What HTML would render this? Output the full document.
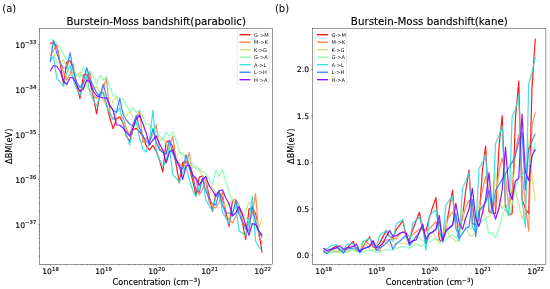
<!DOCTYPE html>
<html><head><meta charset="utf-8"><title>Burstein-Moss bandshift</title>
<style>html,body{margin:0;padding:0;background:#fff}body{width:550px;height:289px;overflow:hidden}</style>
</head><body>
<svg width="550" height="289" viewBox="0 0 550 289" style="display:block">
<rect width="550" height="289" fill="#fff"/>
<clipPath id="c39"><rect x="39.6" y="28.2" width="233.20000000000002" height="236.15000000000003"/></clipPath>
<g clip-path="url(#c39)" fill="none" stroke-width="1.2" stroke-linejoin="round" stroke-linecap="butt" stroke-opacity="0.9">
<polyline points="50.20,43.60 53.51,42.50 56.83,46.40 60.14,63.00 63.45,84.00 66.76,62.10 70.08,60.90 73.39,68.70 76.70,85.00 80.01,98.50 83.33,75.10 86.64,73.90 89.95,82.00 93.26,96.22 96.58,114.00 99.89,93.60 103.20,92.40 106.51,104.40 109.83,117.50 113.14,128.90 116.45,118.60 119.76,117.40 123.08,123.00 126.39,136.00 129.70,141.30 133.01,129.60 136.32,128.40 139.64,132.00 142.95,135.50 146.26,146.00 149.57,150.00 152.89,145.40 156.20,151.00 159.51,160.30 162.82,172.00 166.14,142.10 169.45,140.90 172.76,146.50 176.07,164.27 179.39,182.90 182.70,162.60 186.01,161.40 189.32,167.00 192.64,180.31 195.95,195.30 199.26,177.10 202.57,175.90 205.89,181.50 209.20,195.81 212.51,211.60 215.82,193.60 219.14,192.40 222.45,198.00 225.76,211.43 229.07,226.50 232.39,201.10 235.70,199.90 239.01,205.50 242.32,222.00 245.64,239.60 248.95,209.10 252.26,207.90 255.57,213.50 258.89,232.81 262.20,252.70" stroke="#ff0000"/>
<polyline points="50.20,55.80 53.51,50.00 56.83,44.90 60.14,63.00 63.45,71.90 66.76,80.00 70.08,74.00 73.39,64.00 76.70,89.00 80.01,91.00 83.33,87.30 86.64,81.30 89.95,71.30 93.26,95.30 96.58,98.30 99.89,94.20 103.20,88.20 106.51,78.20 109.83,113.00 113.14,118.70 116.45,118.00 119.76,116.50 123.08,117.50 126.39,129.00 129.70,135.00 133.01,123.30 136.32,118.00 139.64,110.90 142.95,142.70 146.26,137.90 149.57,140.50 152.89,134.50 156.20,124.50 159.51,148.50 162.82,151.50 166.14,152.20 169.45,146.20 172.76,136.20 176.07,160.20 179.39,163.20 182.70,168.50 186.01,162.50 189.32,152.50 192.64,176.50 195.95,179.50 199.26,195.00 202.57,189.00 205.89,179.00 209.20,203.00 212.51,206.00 215.82,208.00 219.14,202.00 222.45,192.00 225.76,216.00 229.07,219.00 232.39,223.00 235.70,217.00 239.01,207.00 242.32,222.00 245.64,226.00 248.95,222.00 252.26,214.00 255.57,193.50 258.89,236.00 262.20,243.30" stroke="#ff7e41"/>
<polyline points="50.20,46.40 53.51,52.00 56.83,61.60 60.14,63.00 63.45,59.90 66.76,66.00 70.08,74.00 73.39,78.00 76.70,76.00 80.01,72.00 83.33,79.00 86.64,86.00 89.95,92.00 93.26,90.00 96.58,86.00 99.89,92.00 103.20,99.00 106.51,107.00 109.83,111.60 113.14,101.00 116.45,97.00 119.76,106.00 123.08,112.00 126.39,116.00 129.70,111.60 133.01,117.00 136.32,123.00 139.64,128.00 142.95,126.00 146.26,124.00 149.57,124.50 152.89,131.00 156.20,137.00 159.51,141.00 162.82,137.30 166.14,143.00 169.45,149.00 172.76,154.00 176.07,157.00 179.39,152.50 182.70,155.00 186.01,157.00 189.32,163.00 192.64,168.00 195.95,166.00 199.26,170.00 202.57,176.00 205.89,182.00 209.20,185.00 212.51,187.00 215.82,193.00 219.14,197.00 222.45,203.00 225.76,206.00 229.07,204.00 232.39,199.30 235.70,205.00 239.01,212.00 242.32,216.00 245.64,212.00 248.95,202.20 252.26,205.00 255.57,218.00 258.89,228.00 262.20,217.80" stroke="#d4dd80"/>
<polyline points="50.20,39.00 53.51,40.50 56.83,43.00 60.14,48.00 63.45,54.40 66.76,60.00 70.08,66.00 73.39,68.70 76.70,74.50 80.01,77.50 83.33,67.30 86.64,73.80 89.95,70.90 93.26,77.00 96.58,84.00 99.89,75.30 103.20,80.40 106.51,76.70 109.83,87.00 113.14,95.60 116.45,96.40 119.76,98.00 123.08,99.30 126.39,105.00 129.70,111.60 133.01,107.30 136.32,112.40 139.64,109.90 142.95,117.00 146.26,123.50 149.57,124.50 152.89,129.00 156.20,132.00 159.51,136.00 162.82,140.30 166.14,132.00 169.45,136.50 172.76,132.30 176.07,140.00 179.39,151.80 182.70,154.00 186.01,156.90 189.32,159.00 192.64,164.00 195.95,169.20 199.26,168.30 202.57,172.00 205.89,173.50 209.20,179.00 212.51,184.40 215.82,169.80 219.14,176.40 222.45,169.40 225.76,181.00 229.07,192.50 232.39,199.30 235.70,201.50 239.01,206.00 242.32,212.00 245.64,218.00 248.95,222.00 252.26,224.00 255.57,228.00 258.89,232.00 262.20,236.00" stroke="#80ffb4"/>
<polyline points="50.20,61.60 53.51,56.00 56.83,78.90 60.14,82.00 63.45,86.50 66.76,72.00 70.08,66.00 73.39,80.00 76.70,89.00 80.01,95.60 83.33,83.00 86.64,76.00 89.95,92.00 93.26,100.00 96.58,106.00 99.89,96.00 103.20,92.00 106.51,106.00 109.83,113.00 113.14,120.00 116.45,112.00 119.76,108.00 123.08,124.00 126.39,134.00 129.70,145.00 133.01,128.00 136.32,122.00 139.64,138.00 142.95,149.00 146.26,152.00 149.57,140.00 152.89,110.00 156.20,150.00 159.51,160.00 162.82,166.40 166.14,160.00 169.45,148.00 172.76,174.90 176.07,178.00 179.39,182.00 182.70,172.00 186.01,166.00 189.32,180.00 192.64,190.00 195.95,196.70 199.26,186.00 202.57,177.80 205.89,200.00 209.20,206.00 212.51,211.00 215.82,197.00 219.14,190.00 222.45,212.00 225.76,218.00 229.07,224.00 232.39,212.00 235.70,206.00 239.01,230.90 242.32,233.00 245.64,236.00 248.95,222.00 252.26,196.40 255.57,241.00 258.89,247.00 262.20,251.30" stroke="#2adddd"/>
<polyline points="50.20,62.10 53.51,40.30 56.83,53.30 60.14,63.00 63.45,68.00 66.76,68.00 70.08,52.70 73.39,72.00 76.70,82.00 80.01,87.60 83.33,83.00 86.64,67.50 89.95,79.00 93.26,86.00 96.58,92.70 99.89,96.40 103.20,84.00 106.51,96.40 109.83,105.00 113.14,110.30 116.45,112.30 119.76,98.30 123.08,114.50 126.39,120.00 129.70,124.00 133.01,126.00 136.32,115.30 139.64,128.30 142.95,136.30 146.26,140.90 149.57,142.90 152.89,128.90 156.20,141.90 159.51,149.90 162.82,152.20 166.14,154.20 169.45,140.20 172.76,153.20 176.07,161.20 179.39,166.70 182.70,168.70 186.01,154.70 189.32,167.70 192.64,175.70 195.95,189.80 199.26,192.40 202.57,177.80 205.89,190.80 209.20,198.80 212.51,204.00 215.82,205.00 219.14,192.00 222.45,205.00 225.76,213.00 229.07,213.00 232.39,215.00 235.70,201.00 239.01,214.00 242.32,222.00 245.64,228.70 248.95,230.90 252.26,206.00 255.57,222.00 258.89,232.00 262.20,237.50" stroke="#2c7ef7"/>
<polyline points="50.20,71.30 53.51,65.50 56.83,66.50 60.14,71.00 63.45,81.00 66.76,84.50 70.08,77.50 73.39,78.20 76.70,85.00 80.01,91.30 83.33,89.00 86.64,80.00 89.95,82.00 93.26,91.00 96.58,95.60 99.89,97.00 103.20,98.00 106.51,97.80 109.83,105.80 113.14,110.00 116.45,125.00 119.76,125.00 123.08,128.00 126.39,132.00 129.70,136.20 133.01,128.00 136.32,119.00 139.64,115.00 142.95,124.00 146.26,133.30 149.57,145.00 152.89,140.00 156.20,136.00 159.51,144.00 162.82,150.00 166.14,163.00 169.45,152.00 172.76,150.00 176.07,159.00 179.39,166.00 182.70,179.30 186.01,166.00 189.32,165.00 192.64,175.00 195.95,178.00 199.26,185.00 202.57,180.00 205.89,176.50 209.20,186.00 212.51,190.50 215.82,196.40 219.14,191.00 222.45,189.80 225.76,198.00 229.07,203.60 232.39,216.00 235.70,213.00 239.01,206.50 242.32,214.00 245.64,225.00 248.95,235.30 252.26,223.60 255.57,224.40 258.89,231.00 262.20,235.30" stroke="#8000ff"/>
</g>
<g stroke="#000" stroke-width="0.4" fill="none">
<line x1="41.99" y1="264.35" x2="41.99" y2="265.25"/>
<line x1="45.06" y1="264.35" x2="45.06" y2="265.25"/>
<line x1="47.77" y1="264.35" x2="47.77" y2="265.25"/>
<line x1="50.20" y1="264.35" x2="50.20" y2="265.95000000000005"/>
<line x1="66.15" y1="264.35" x2="66.15" y2="265.25"/>
<line x1="75.49" y1="264.35" x2="75.49" y2="265.25"/>
<line x1="82.11" y1="264.35" x2="82.11" y2="265.25"/>
<line x1="87.25" y1="264.35" x2="87.25" y2="265.25"/>
<line x1="91.44" y1="264.35" x2="91.44" y2="265.25"/>
<line x1="94.99" y1="264.35" x2="94.99" y2="265.25"/>
<line x1="98.06" y1="264.35" x2="98.06" y2="265.25"/>
<line x1="100.77" y1="264.35" x2="100.77" y2="265.25"/>
<line x1="103.20" y1="264.35" x2="103.20" y2="265.95000000000005"/>
<line x1="119.15" y1="264.35" x2="119.15" y2="265.25"/>
<line x1="128.49" y1="264.35" x2="128.49" y2="265.25"/>
<line x1="135.11" y1="264.35" x2="135.11" y2="265.25"/>
<line x1="140.25" y1="264.35" x2="140.25" y2="265.25"/>
<line x1="144.44" y1="264.35" x2="144.44" y2="265.25"/>
<line x1="147.99" y1="264.35" x2="147.99" y2="265.25"/>
<line x1="151.06" y1="264.35" x2="151.06" y2="265.25"/>
<line x1="153.77" y1="264.35" x2="153.77" y2="265.25"/>
<line x1="156.20" y1="264.35" x2="156.20" y2="265.95000000000005"/>
<line x1="172.15" y1="264.35" x2="172.15" y2="265.25"/>
<line x1="181.49" y1="264.35" x2="181.49" y2="265.25"/>
<line x1="188.11" y1="264.35" x2="188.11" y2="265.25"/>
<line x1="193.25" y1="264.35" x2="193.25" y2="265.25"/>
<line x1="197.44" y1="264.35" x2="197.44" y2="265.25"/>
<line x1="200.99" y1="264.35" x2="200.99" y2="265.25"/>
<line x1="204.06" y1="264.35" x2="204.06" y2="265.25"/>
<line x1="206.77" y1="264.35" x2="206.77" y2="265.25"/>
<line x1="209.20" y1="264.35" x2="209.20" y2="265.95000000000005"/>
<line x1="225.15" y1="264.35" x2="225.15" y2="265.25"/>
<line x1="234.49" y1="264.35" x2="234.49" y2="265.25"/>
<line x1="241.11" y1="264.35" x2="241.11" y2="265.25"/>
<line x1="246.25" y1="264.35" x2="246.25" y2="265.25"/>
<line x1="250.44" y1="264.35" x2="250.44" y2="265.25"/>
<line x1="253.99" y1="264.35" x2="253.99" y2="265.25"/>
<line x1="257.06" y1="264.35" x2="257.06" y2="265.25"/>
<line x1="259.77" y1="264.35" x2="259.77" y2="265.25"/>
<line x1="262.20" y1="264.35" x2="262.20" y2="265.95000000000005"/>
<line x1="39.6" y1="256.19" x2="38.7" y2="256.19"/>
<line x1="39.6" y1="248.26" x2="38.7" y2="248.26"/>
<line x1="39.6" y1="242.63" x2="38.7" y2="242.63"/>
<line x1="39.6" y1="238.26" x2="38.7" y2="238.26"/>
<line x1="39.6" y1="234.69" x2="38.7" y2="234.69"/>
<line x1="39.6" y1="231.68" x2="38.7" y2="231.68"/>
<line x1="39.6" y1="229.07" x2="38.7" y2="229.07"/>
<line x1="39.6" y1="226.76" x2="38.7" y2="226.76"/>
<line x1="39.6" y1="224.70" x2="38.0" y2="224.70"/>
<line x1="39.6" y1="211.14" x2="38.7" y2="211.14"/>
<line x1="39.6" y1="203.21" x2="38.7" y2="203.21"/>
<line x1="39.6" y1="197.58" x2="38.7" y2="197.58"/>
<line x1="39.6" y1="193.21" x2="38.7" y2="193.21"/>
<line x1="39.6" y1="189.64" x2="38.7" y2="189.64"/>
<line x1="39.6" y1="186.63" x2="38.7" y2="186.63"/>
<line x1="39.6" y1="184.02" x2="38.7" y2="184.02"/>
<line x1="39.6" y1="181.71" x2="38.7" y2="181.71"/>
<line x1="39.6" y1="179.65" x2="38.0" y2="179.65"/>
<line x1="39.6" y1="166.09" x2="38.7" y2="166.09"/>
<line x1="39.6" y1="158.16" x2="38.7" y2="158.16"/>
<line x1="39.6" y1="152.53" x2="38.7" y2="152.53"/>
<line x1="39.6" y1="148.16" x2="38.7" y2="148.16"/>
<line x1="39.6" y1="144.59" x2="38.7" y2="144.59"/>
<line x1="39.6" y1="141.58" x2="38.7" y2="141.58"/>
<line x1="39.6" y1="138.97" x2="38.7" y2="138.97"/>
<line x1="39.6" y1="136.66" x2="38.7" y2="136.66"/>
<line x1="39.6" y1="134.60" x2="38.0" y2="134.60"/>
<line x1="39.6" y1="121.04" x2="38.7" y2="121.04"/>
<line x1="39.6" y1="113.11" x2="38.7" y2="113.11"/>
<line x1="39.6" y1="107.48" x2="38.7" y2="107.48"/>
<line x1="39.6" y1="103.11" x2="38.7" y2="103.11"/>
<line x1="39.6" y1="99.54" x2="38.7" y2="99.54"/>
<line x1="39.6" y1="96.53" x2="38.7" y2="96.53"/>
<line x1="39.6" y1="93.92" x2="38.7" y2="93.92"/>
<line x1="39.6" y1="91.61" x2="38.7" y2="91.61"/>
<line x1="39.6" y1="89.55" x2="38.0" y2="89.55"/>
<line x1="39.6" y1="75.99" x2="38.7" y2="75.99"/>
<line x1="39.6" y1="68.06" x2="38.7" y2="68.06"/>
<line x1="39.6" y1="62.43" x2="38.7" y2="62.43"/>
<line x1="39.6" y1="58.06" x2="38.7" y2="58.06"/>
<line x1="39.6" y1="54.49" x2="38.7" y2="54.49"/>
<line x1="39.6" y1="51.48" x2="38.7" y2="51.48"/>
<line x1="39.6" y1="48.87" x2="38.7" y2="48.87"/>
<line x1="39.6" y1="46.56" x2="38.7" y2="46.56"/>
<line x1="39.6" y1="44.50" x2="38.0" y2="44.50"/>
<line x1="39.6" y1="30.94" x2="38.7" y2="30.94"/>
<rect x="39.6" y="28.2" width="233.20000000000002" height="236.15000000000003"/>
</g>
<g font-family="'DejaVu Sans', 'Liberation Sans', sans-serif" fill="#000" stroke="#000" stroke-width="0.13">
<text x="50.50" y="274.35" font-size="7.7" text-anchor="middle">10<tspan dy="-3.5" font-size="5.39">18</tspan></text>
<text x="103.50" y="274.35" font-size="7.7" text-anchor="middle">10<tspan dy="-3.5" font-size="5.39">19</tspan></text>
<text x="156.50" y="274.35" font-size="7.7" text-anchor="middle">10<tspan dy="-3.5" font-size="5.39">20</tspan></text>
<text x="209.50" y="274.35" font-size="7.7" text-anchor="middle">10<tspan dy="-3.5" font-size="5.39">21</tspan></text>
<text x="262.50" y="274.35" font-size="7.7" text-anchor="middle">10<tspan dy="-3.5" font-size="5.39">22</tspan></text>
<text x="36.40" y="228.00" font-size="7.7" text-anchor="end">10<tspan dy="-3.6" font-size="5.39">−37</tspan></text>
<text x="36.40" y="182.95" font-size="7.7" text-anchor="end">10<tspan dy="-3.6" font-size="5.39">−36</tspan></text>
<text x="36.40" y="137.90" font-size="7.7" text-anchor="end">10<tspan dy="-3.6" font-size="5.39">−35</tspan></text>
<text x="36.40" y="92.85" font-size="7.7" text-anchor="end">10<tspan dy="-3.6" font-size="5.39">−34</tspan></text>
<text x="36.40" y="47.80" font-size="7.7" text-anchor="end">10<tspan dy="-3.6" font-size="5.39">−33</tspan></text>
<text x="156.20" y="24.9" font-size="10.3" text-anchor="middle">Burstein-Moss bandshift(parabolic)</text>
<text x="156.55" y="285.0" font-size="8.2" text-anchor="middle">Concentration (cm<tspan dy="-3" font-size="5.74">−3</tspan><tspan dy="3">)</tspan></text>
<text transform="translate(12.2,146.28) rotate(-90)" font-size="8.2" text-anchor="middle">ΔBM(eV)</text>
<rect x="237.30" y="30.80" width="31.8" height="53.4" rx="1.2" fill="#fff" fill-opacity="0.8" stroke="#d4d4d4" stroke-width="0.5"/>
<line x1="239.50" y1="34.70" x2="250.50" y2="34.70" stroke="#ff0000" stroke-width="1.3"/>
<text x="254.10" y="36.50" font-size="5.1" stroke="none" fill="#111">G-&gt;M</text>
<line x1="239.50" y1="42.20" x2="250.50" y2="42.20" stroke="#ff7e41" stroke-width="1.3"/>
<text x="254.10" y="44.00" font-size="5.1" stroke="none" fill="#111">M-&gt;K</text>
<line x1="239.50" y1="49.70" x2="250.50" y2="49.70" stroke="#d4dd80" stroke-width="1.3"/>
<text x="254.10" y="51.50" font-size="5.1" stroke="none" fill="#111">K-&gt;G</text>
<line x1="239.50" y1="57.20" x2="250.50" y2="57.20" stroke="#80ffb4" stroke-width="1.3"/>
<text x="254.10" y="59.00" font-size="5.1" stroke="none" fill="#111">G-&gt;A</text>
<line x1="239.50" y1="64.70" x2="250.50" y2="64.70" stroke="#2adddd" stroke-width="1.3"/>
<text x="254.10" y="66.50" font-size="5.1" stroke="none" fill="#111">A-&gt;L</text>
<line x1="239.50" y1="72.20" x2="250.50" y2="72.20" stroke="#2c7ef7" stroke-width="1.3"/>
<text x="254.10" y="74.00" font-size="5.1" stroke="none" fill="#111">L-&gt;H</text>
<line x1="239.50" y1="79.70" x2="250.50" y2="79.70" stroke="#8000ff" stroke-width="1.3"/>
<text x="254.10" y="81.50" font-size="5.1" stroke="none" fill="#111">H-&gt;A</text>
</g>
<clipPath id="c312"><rect x="312.75" y="28.2" width="233.14999999999998" height="236.15000000000003"/></clipPath>
<g clip-path="url(#c312)" fill="none" stroke-width="1.2" stroke-linejoin="round" stroke-linecap="butt" stroke-opacity="0.9">
<polyline points="323.35,250.75 326.66,252.88 329.97,250.75 333.28,247.78 336.59,245.64 339.91,250.75 343.22,251.49 346.53,248.70 349.84,244.90 353.15,241.28 356.47,250.00 359.78,250.56 363.09,246.85 366.40,241.28 369.71,236.92 373.02,247.03 376.34,246.85 379.65,243.14 382.96,236.64 386.27,230.42 389.58,236.27 392.90,237.66 396.21,229.68 399.52,225.41 402.83,220.96 406.14,236.64 409.45,240.35 412.77,229.68 416.08,220.96 419.39,212.33 422.70,230.61 426.01,230.14 429.32,218.08 432.64,206.94 435.95,197.66 439.26,239.61 442.57,242.02 445.88,227.36 449.20,208.80 452.51,190.24 455.82,228.29 459.13,232.46 462.44,218.08 465.75,190.24 469.07,170.20 472.38,223.65 475.69,224.58 479.00,219.94 482.31,171.68 485.63,146.16 488.94,211.58 492.25,213.44 495.56,213.44 498.87,148.48 502.18,115.54 505.50,208.80 508.81,215.30 512.12,213.44 515.43,118.78 518.74,81.39 522.06,199.52 525.37,208.80 528.68,213.44 531.99,88.16 535.30,38.42" stroke="#ff0000"/>
<polyline points="323.35,252.42 326.66,252.42 329.97,251.95 333.28,251.49 336.59,250.56 339.91,251.49 343.22,251.95 346.53,251.49 349.84,250.56 353.15,249.63 356.47,250.56 359.78,251.49 363.09,246.85 366.40,242.21 369.71,244.99 373.02,245.92 376.34,248.70 379.65,251.49 382.96,243.14 386.27,240.35 389.58,239.42 392.90,238.96 396.21,238.96 399.52,234.13 402.83,231.91 406.14,232.65 409.45,236.64 412.77,234.78 416.08,232.00 419.39,229.03 422.70,229.68 426.01,231.16 429.32,229.03 432.64,225.41 435.95,221.70 439.26,231.16 442.57,242.12 445.88,222.72 449.20,216.60 452.51,212.23 455.82,218.08 459.13,227.36 462.44,218.08 465.75,207.50 469.07,200.17 472.38,208.80 475.69,222.72 479.00,208.80 482.31,190.24 485.63,176.32 488.94,190.24 492.25,213.44 495.56,199.52 498.87,171.68 502.18,158.04 505.50,176.32 508.81,208.80 512.12,190.24 515.43,153.12 518.74,134.56 522.06,171.68 525.37,204.16 528.68,231.07 531.99,125.28 535.30,112.29" stroke="#ff7e41"/>
<polyline points="323.35,251.49 326.66,251.95 329.97,251.49 333.28,251.02 336.59,250.56 339.91,251.02 343.22,251.49 346.53,251.02 349.84,250.56 353.15,249.63 356.47,248.70 359.78,245.92 363.09,242.02 366.40,244.06 369.71,249.63 373.02,249.63 376.34,248.70 379.65,246.85 382.96,241.28 386.27,242.67 389.58,244.99 392.90,244.99 396.21,244.06 399.52,243.14 402.83,243.14 406.14,244.06 409.45,243.14 412.77,240.35 416.08,236.64 419.39,237.57 422.70,241.28 426.01,241.28 429.32,238.50 432.64,231.07 435.95,238.50 439.26,243.14 442.57,241.28 445.88,220.86 449.20,236.64 452.51,238.50 455.82,241.28 459.13,240.35 462.44,208.80 465.75,227.36 469.07,234.78 472.38,236.64 475.69,232.00 479.00,204.53 482.31,208.80 485.63,218.08 488.94,216.22 492.25,213.44 495.56,172.61 498.87,199.52 502.18,208.80 505.50,203.23 508.81,208.80 512.12,171.68 515.43,190.24 518.74,204.16 522.06,219.01 525.37,208.80 528.68,140.13 531.99,176.32 535.30,201.38" stroke="#d4dd80"/>
<polyline points="323.35,252.42 326.66,252.88 329.97,252.88 333.28,252.42 336.59,252.42 339.91,252.42 343.22,252.88 346.53,252.42 349.84,251.02 353.15,250.10 356.47,251.49 359.78,252.69 363.09,251.95 366.40,250.56 369.71,250.10 373.02,251.49 376.34,252.69 379.65,251.95 382.96,250.56 386.27,249.35 389.58,249.82 392.90,250.10 396.21,248.70 399.52,247.31 402.83,246.29 406.14,247.31 409.45,248.33 412.77,245.92 416.08,243.69 419.39,245.92 422.70,245.92 426.01,241.28 429.32,242.21 432.64,239.89 435.95,238.59 439.26,241.28 442.57,242.39 445.88,239.42 449.20,235.99 452.51,235.06 455.82,237.57 459.13,234.78 462.44,232.46 465.75,228.29 469.07,227.36 472.38,229.68 475.69,228.75 479.00,224.58 482.31,220.86 485.63,218.54 488.94,233.86 492.25,232.46 495.56,237.57 498.87,228.75 502.18,216.22 505.50,207.87 508.81,216.22 512.12,204.16 515.43,188.38 518.74,177.25 522.06,175.39 525.37,171.68 528.68,165.18 531.99,158.69 535.30,142.91" stroke="#80ffb4"/>
<polyline points="323.35,248.52 326.66,249.17 329.97,246.38 333.28,244.99 336.59,244.90 339.91,249.26 343.22,250.75 346.53,244.90 349.84,244.16 353.15,243.41 356.47,249.26 359.78,252.42 363.09,241.28 366.40,239.80 369.71,238.40 373.02,244.06 376.34,247.03 379.65,235.53 382.96,232.56 386.27,231.07 389.58,235.53 392.90,241.28 396.21,223.93 399.52,221.79 402.83,219.47 406.14,236.64 409.45,243.14 412.77,223.18 416.08,220.31 419.39,217.43 422.70,227.36 426.01,250.19 429.32,216.60 432.64,212.23 435.95,210.01 439.26,232.00 442.57,239.98 445.88,204.53 449.20,200.45 452.51,195.81 455.82,227.36 459.13,241.28 462.44,188.38 465.75,180.96 469.07,172.61 472.38,227.36 475.69,232.00 479.00,168.25 482.31,163.33 485.63,154.05 488.94,208.80 492.25,213.44 495.56,143.84 498.87,135.49 502.18,126.39 505.50,204.16 508.81,215.30 512.12,116.93 515.43,109.04 518.74,95.12 522.06,199.52 525.37,227.36 528.68,83.98 531.99,72.38 535.30,57.07" stroke="#2adddd"/>
<polyline points="323.35,250.75 326.66,253.62 329.97,250.56 333.28,249.17 336.59,247.78 339.91,249.17 343.22,253.16 346.53,249.17 349.84,248.70 353.15,248.24 356.47,247.78 359.78,252.60 363.09,248.70 366.40,247.78 369.71,246.38 373.02,241.28 376.34,250.75 379.65,247.78 382.96,245.92 386.27,243.14 389.58,239.80 392.90,249.26 396.21,243.41 399.52,241.28 402.83,238.50 406.14,234.78 409.45,245.92 412.77,241.28 416.08,236.64 419.39,232.00 422.70,225.50 426.01,243.51 429.32,233.30 432.64,232.00 435.95,229.22 439.26,220.86 442.57,241.37 445.88,232.00 449.20,227.36 452.51,224.58 455.82,213.44 459.13,238.50 462.44,233.86 465.75,228.29 469.07,226.43 472.38,199.52 475.69,236.64 479.00,211.58 482.31,206.94 485.63,202.30 488.94,190.24 492.25,209.73 495.56,190.24 498.87,185.14 502.18,179.10 505.50,173.54 508.81,167.97 512.12,162.40 515.43,154.98 518.74,141.98 522.06,132.70 525.37,190.24 528.68,148.76 531.99,141.06 535.30,133.63" stroke="#2c7ef7"/>
<polyline points="323.35,248.24 326.66,250.75 329.97,249.26 333.28,248.70 336.59,247.78 339.91,245.64 343.22,249.26 346.53,247.78 349.84,247.31 353.15,246.38 356.47,244.16 359.78,251.49 363.09,248.70 366.40,247.78 369.71,246.38 373.02,240.54 376.34,247.78 379.65,246.38 382.96,243.14 386.27,236.64 389.58,230.42 392.90,236.27 396.21,235.71 399.52,233.39 402.83,232.00 406.14,233.39 409.45,243.51 412.77,240.82 416.08,239.98 419.39,232.00 422.70,223.93 426.01,239.24 429.32,234.04 432.64,232.00 435.95,229.22 439.26,215.30 442.57,240.63 445.88,230.42 449.20,228.29 452.51,225.50 455.82,203.23 459.13,222.72 462.44,229.22 465.75,218.08 469.07,208.80 472.38,188.38 475.69,218.08 479.00,226.43 482.31,213.44 485.63,199.52 488.94,172.52 492.25,208.80 495.56,219.01 498.87,208.80 502.18,190.24 505.50,147.09 508.81,190.24 512.12,199.52 515.43,180.96 518.74,178.18 522.06,114.14 525.37,171.68 528.68,180.50 531.99,155.90 535.30,149.13" stroke="#8000ff"/>
</g>
<g stroke="#000" stroke-width="0.4" fill="none">
<line x1="315.14" y1="264.35" x2="315.14" y2="265.25"/>
<line x1="318.21" y1="264.35" x2="318.21" y2="265.25"/>
<line x1="320.92" y1="264.35" x2="320.92" y2="265.25"/>
<line x1="323.35" y1="264.35" x2="323.35" y2="265.95000000000005"/>
<line x1="339.30" y1="264.35" x2="339.30" y2="265.25"/>
<line x1="348.63" y1="264.35" x2="348.63" y2="265.25"/>
<line x1="355.25" y1="264.35" x2="355.25" y2="265.25"/>
<line x1="360.39" y1="264.35" x2="360.39" y2="265.25"/>
<line x1="364.58" y1="264.35" x2="364.58" y2="265.25"/>
<line x1="368.13" y1="264.35" x2="368.13" y2="265.25"/>
<line x1="371.20" y1="264.35" x2="371.20" y2="265.25"/>
<line x1="373.91" y1="264.35" x2="373.91" y2="265.25"/>
<line x1="376.34" y1="264.35" x2="376.34" y2="265.95000000000005"/>
<line x1="392.29" y1="264.35" x2="392.29" y2="265.25"/>
<line x1="401.62" y1="264.35" x2="401.62" y2="265.25"/>
<line x1="408.24" y1="264.35" x2="408.24" y2="265.25"/>
<line x1="413.37" y1="264.35" x2="413.37" y2="265.25"/>
<line x1="417.57" y1="264.35" x2="417.57" y2="265.25"/>
<line x1="421.12" y1="264.35" x2="421.12" y2="265.25"/>
<line x1="424.19" y1="264.35" x2="424.19" y2="265.25"/>
<line x1="426.90" y1="264.35" x2="426.90" y2="265.25"/>
<line x1="429.32" y1="264.35" x2="429.32" y2="265.95000000000005"/>
<line x1="445.28" y1="264.35" x2="445.28" y2="265.25"/>
<line x1="454.61" y1="264.35" x2="454.61" y2="265.25"/>
<line x1="461.23" y1="264.35" x2="461.23" y2="265.25"/>
<line x1="466.36" y1="264.35" x2="466.36" y2="265.25"/>
<line x1="470.56" y1="264.35" x2="470.56" y2="265.25"/>
<line x1="474.11" y1="264.35" x2="474.11" y2="265.25"/>
<line x1="477.18" y1="264.35" x2="477.18" y2="265.25"/>
<line x1="479.89" y1="264.35" x2="479.89" y2="265.25"/>
<line x1="482.31" y1="264.35" x2="482.31" y2="265.95000000000005"/>
<line x1="498.26" y1="264.35" x2="498.26" y2="265.25"/>
<line x1="507.60" y1="264.35" x2="507.60" y2="265.25"/>
<line x1="514.22" y1="264.35" x2="514.22" y2="265.25"/>
<line x1="519.35" y1="264.35" x2="519.35" y2="265.25"/>
<line x1="523.55" y1="264.35" x2="523.55" y2="265.25"/>
<line x1="527.09" y1="264.35" x2="527.09" y2="265.25"/>
<line x1="530.17" y1="264.35" x2="530.17" y2="265.25"/>
<line x1="532.88" y1="264.35" x2="532.88" y2="265.25"/>
<line x1="535.30" y1="264.35" x2="535.30" y2="265.95000000000005"/>
<line x1="312.75" y1="255.20" x2="311.15" y2="255.20"/>
<line x1="312.75" y1="208.80" x2="311.15" y2="208.80"/>
<line x1="312.75" y1="162.40" x2="311.15" y2="162.40"/>
<line x1="312.75" y1="116.00" x2="311.15" y2="116.00"/>
<line x1="312.75" y1="69.60" x2="311.15" y2="69.60"/>
<rect x="312.75" y="28.2" width="233.14999999999998" height="236.15000000000003"/>
</g>
<g font-family="'DejaVu Sans', 'Liberation Sans', sans-serif" fill="#000" stroke="#000" stroke-width="0.13">
<text x="323.65" y="274.35" font-size="7.7" text-anchor="middle">10<tspan dy="-3.5" font-size="5.39">18</tspan></text>
<text x="376.64" y="274.35" font-size="7.7" text-anchor="middle">10<tspan dy="-3.5" font-size="5.39">19</tspan></text>
<text x="429.62" y="274.35" font-size="7.7" text-anchor="middle">10<tspan dy="-3.5" font-size="5.39">20</tspan></text>
<text x="482.61" y="274.35" font-size="7.7" text-anchor="middle">10<tspan dy="-3.5" font-size="5.39">21</tspan></text>
<text x="535.60" y="274.35" font-size="7.7" text-anchor="middle">10<tspan dy="-3.5" font-size="5.39">22</tspan></text>
<text x="309.05" y="258.00" font-size="7.7" text-anchor="end">0.0</text>
<text x="309.05" y="211.60" font-size="7.7" text-anchor="end">0.5</text>
<text x="309.05" y="165.20" font-size="7.7" text-anchor="end">1.0</text>
<text x="309.05" y="118.80" font-size="7.7" text-anchor="end">1.5</text>
<text x="309.05" y="72.40" font-size="7.7" text-anchor="end">2.0</text>
<text x="429.32" y="24.9" font-size="10.3" text-anchor="middle">Burstein-Moss bandshift(kane)</text>
<text x="429.68" y="285.0" font-size="8.2" text-anchor="middle">Concentration (cm<tspan dy="-3" font-size="5.74">−3</tspan><tspan dy="3">)</tspan></text>
<text transform="translate(294.2,146.28) rotate(-90)" font-size="8.2" text-anchor="middle">ΔBM(eV)</text>
<rect x="314.75" y="30.80" width="31.8" height="53.4" rx="1.2" fill="#fff" fill-opacity="0.8" stroke="#d4d4d4" stroke-width="0.5"/>
<line x1="316.95" y1="34.70" x2="327.95" y2="34.70" stroke="#ff0000" stroke-width="1.3"/>
<text x="331.55" y="36.50" font-size="5.1" stroke="none" fill="#111">G-&gt;M</text>
<line x1="316.95" y1="42.20" x2="327.95" y2="42.20" stroke="#ff7e41" stroke-width="1.3"/>
<text x="331.55" y="44.00" font-size="5.1" stroke="none" fill="#111">M-&gt;K</text>
<line x1="316.95" y1="49.70" x2="327.95" y2="49.70" stroke="#d4dd80" stroke-width="1.3"/>
<text x="331.55" y="51.50" font-size="5.1" stroke="none" fill="#111">K-&gt;G</text>
<line x1="316.95" y1="57.20" x2="327.95" y2="57.20" stroke="#80ffb4" stroke-width="1.3"/>
<text x="331.55" y="59.00" font-size="5.1" stroke="none" fill="#111">G-&gt;A</text>
<line x1="316.95" y1="64.70" x2="327.95" y2="64.70" stroke="#2adddd" stroke-width="1.3"/>
<text x="331.55" y="66.50" font-size="5.1" stroke="none" fill="#111">A-&gt;L</text>
<line x1="316.95" y1="72.20" x2="327.95" y2="72.20" stroke="#2c7ef7" stroke-width="1.3"/>
<text x="331.55" y="74.00" font-size="5.1" stroke="none" fill="#111">L-&gt;H</text>
<line x1="316.95" y1="79.70" x2="327.95" y2="79.70" stroke="#8000ff" stroke-width="1.3"/>
<text x="331.55" y="81.50" font-size="5.1" stroke="none" fill="#111">H-&gt;A</text>
</g>
<g font-family="'DejaVu Sans', 'Liberation Sans', sans-serif" font-size="10.1" fill="#000"><text x="2.2" y="12.1">(a)</text><text x="274.9" y="12">(b)</text></g>
</svg>
</body></html>
